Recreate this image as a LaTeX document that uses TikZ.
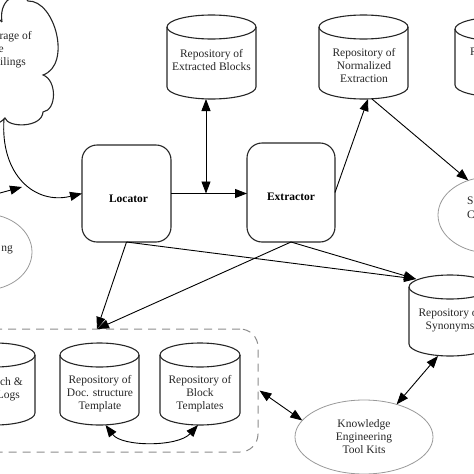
\documentclass[tikz,border=0pt]{standalone}
\usepackage{fontspec}
\setmainfont{Liberation Serif}
\usetikzlibrary{arrows.meta,shapes.geometric}
\tikzset{
  outl/.style={draw=black!85, line width=1.1pt},
  grayell/.style={ellipse, draw=black!40, line width=0.8pt, inner sep=0pt, outer sep=0pt},
  conn/.style={draw=black, line width=0.9pt},
  onearrow/.style={-{Triangle[length=12pt,width=9pt]}},
  twoarrow/.style={{Triangle[length=12pt,width=9pt]}-{Triangle[length=12pt,width=9pt]}},
  txt/.style={font=\fontsize{11.5}{13}\selectfont, align=center, inner sep=0pt, text=black!85},
  btxt/.style={font=\fontsize{11.5}{13}\selectfont\bfseries, align=center, inner sep=0pt, text=black},
  proc/.style={outl, rectangle, rounded corners=15pt, inner sep=0pt, outer sep=0pt},
  area/.style={draw=black!45, line width=1pt, dash pattern=on 8pt off 6pt, rounded corners=18pt, inner sep=0pt, outer sep=0pt},
  hold/.style={draw=none, inner sep=0pt, outer sep=0pt}
}
% #1 name, #2 centre x, #3 top y, #4 bottom y, #5 half width
\newcommand\drum[5]{%
  \draw[outl] ({#2-#5},{#3+12}) -- ({#2-#5},{#4-12})
     arc[start angle=180,end angle=0,x radius=#5,y radius=12] -- ({#2+#5},{#3+12});
  \draw[outl] (#2,{#3+12}) ellipse[x radius=#5,y radius=12];
  \node[hold, minimum width={2*#5*1pt}, minimum height={(#4-#3)*1pt}] (#1) at (#2,{(#3+#4)/2}) {};
}
\begin{document}
\begin{tikzpicture}[x=1pt,y=-1pt]
\useasboundingbox (0,0) rectangle (474,474);
\clip (0,0) rectangle (474,474);

% cloud
\draw[outl] (2,22) .. controls (-2,-4) and (22,-10) .. (28,1)
  .. controls (55,0) and (72,65) .. (43,75)
  .. controls (57,80) and (57,110) .. (43,112)
  .. controls (42,128) and (8,128) .. (5,118)
  .. controls (-5,130) and (-30,125) .. (-40,110)
  -- (-40,30) .. controls (-30,15) and (-5,12) .. (2,22);
\coordinate (cloudfoot) at (4,119);
\node[txt, anchor=east] (cl1) at (32,37) {rage of};
\node[txt, anchor=east] (cl2) at (4,50) {e};
\node[txt, anchor=east] (cl3) at (26,63) {Filings};

% left ellipse
\node[grayell, minimum width=94pt, minimum height=76pt] (lel) at (-15,252) {};
\node[txt, anchor=east] (lelT) at (13,250) {ng};

% processes
\node[proc, minimum width=89pt, minimum height=97pt] (loc) at (126.5,193.5) {};
\node[btxt] (locT) at (128.5,199) {Locator};
\node[proc, minimum width=88pt, minimum height=99pt] (ext) at (291,192.5) {};
\node[btxt] (extT) at (291,197) {Extractor};

% repositories
\drum{reb}{211.5}{15}{99}{44.5}
\node[txt] (rebT) at (211.5,60) {Repository of\\Extracted Blocks};
\drum{rne}{363.5}{15}{99}{44.5}
\node[txt] (rneT) at (364,65.5) {Repository of\\Normalized\\Extraction};
\drum{rtr}{500}{17}{97}{45}
\node[txt, anchor=west] (rtrT) at (470,52) {R};
\drum{rsy}{450}{275}{356}{41}
\node[txt] (rsyT) at (450,320) {Repository of\\Synonyms};
\drum{rlg}{-5}{343}{425}{40}
\node[txt, anchor=east] (rlgA) at (23,382) {ch \&};
\node[txt, anchor=east] (rlgB) at (20,396) {Logs};
\drum{rdt}{99.5}{343}{425}{39.5}
\node[txt] (rdtT) at (100,394) {Repository of\\Doc. structure\\Template};
\drum{rbt}{200}{343}{425}{40}
\node[txt] (rbtT) at (200,394) {Repository of\\Block\\Templates};

% group
\node[area, minimum width=283pt, minimum height=123pt] (grp) at (116.5,390.5) {};

% ellipses
\node[grayell, minimum width=104pt, minimum height=76pt] (sc) at (490,215) {};
\node[txt, anchor=west] (scA) at (467,201) {S};
\node[txt, anchor=west] (scB) at (467,215) {C};
\node[grayell, minimum width=138pt, minimum height=74pt, txt] (ket) at (364,437) {Knowledge\\Engineering\\Tool Kits};

% connectors
\coordinate (lstub) at (0,193);
\coordinate (arcpt) at (22,187);
\draw[conn, onearrow] (cloudfoot) .. controls (0,175) and (35,205) .. (loc.west);
\draw[conn, onearrow] (lstub) -- (arcpt);
\draw[conn, onearrow] (loc.east) -- (loc.east -| ext.west);
\coordinate (vtop) at ([xshift=-5.5pt]reb.south);
\coordinate (vbot) at (vtop |- loc.east);
\draw[conn, twoarrow] (vtop) -- (vbot);
\draw[conn, onearrow] (ext.east) -- ([xshift=4.5pt]rne.south);
\draw[conn, onearrow] ([xshift=8.5pt]rne.south) -- (sc.122);
\coordinate (synin) at ([shift={(7pt,-4pt)}]rsy.north west);
\draw[conn, onearrow] (loc.south) -- (synin);
\draw[conn, onearrow] (ext.south) -- (synin);
\path (rdt.north |- grp.north) coordinate (grpin0);
\coordinate (grpin) at ([xshift=-2.5pt]grpin0);
\draw[conn, onearrow] (loc.south) -- (grpin);
\draw[conn, onearrow] (ext.south) -- (grpin);
\draw[conn, twoarrow] ([xshift=6pt]rdt.south) .. controls (122,447) and (178,447) .. ([xshift=-2pt]rbt.south);
\draw[conn, twoarrow] ([xshift=1.5pt]grp.east) -- (ket.165);
\draw[conn, twoarrow] (ket.45) -- ([xshift=-12pt]rsy.south);
\end{tikzpicture}
\end{document}
